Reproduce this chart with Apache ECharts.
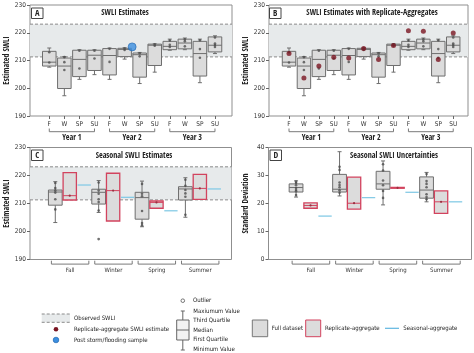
<!DOCTYPE html>
<html><head><meta charset="utf-8">
<script src="https://cdn.jsdelivr.net/npm/echarts@6/dist/echarts.min.js"></script>
<style>html,body{margin:0;padding:0;background:#fff}#c{width:474px;height:353px}</style>
</head><body><div id="c"></div>
<script>
const FONT = '"DejaVu Sans Condensed","DejaVu Sans",sans-serif';
const BFONT = '"Open Sans Condensed","DejaVu Sans Condensed",sans-serif';

// ---------- DATA ----------
const yearSeasons = ['F','W','SP','SU','F','W','SP','SU','F','W','SP','SU'];
const years = ['Year 1','Year 2','Year 3'];
const yearRanges = [[0,3],[4,7],[8,11]];
const observedSWLI = [211.3, 223.1];
// [min, q1, median, q3, max]
const swliBoxes = [
  [207.6, 208.0, 209.4, 213.3, 214.5],
  [197.3, 199.9, 208.0, 210.9, 211.4],
  [203.2, 204.2, 210.4, 213.7, 213.9],
  [204.9, 206.4, 211.9, 213.7, 213.9],
  [203.2, 204.8, 211.8, 214.3, 214.5],
  [210.5, 211.4, 214.0, 214.4, 214.6],
  [201.7, 204.0, 212.1, 212.7, 212.9],
  [205.8, 208.2, 215.5, 215.9, 216.0],
  [213.7, 213.9, 215.1, 216.9, 217.7],
  [213.9, 214.2, 216.3, 217.7, 218.1],
  [202.0, 204.4, 212.5, 216.9, 217.7],
  [212.5, 213.1, 215.5, 218.5, 218.9]
];
const swliPoints = [
  [209.3, 213.0],
  [211.2, 209.4, 206.6],
  [213.5, 207.1],
  [213.5, 210.7],
  [214.2, 209.5],
  [214.3, 213.8],
  [212.6, 211.5],
  [215.8, 215.3],
  [217.2, 215.7, 214.9],
  [217.6, 216.9, 215.1],
  [217.3, 214.1, 211.0],
  [218.3, 216.1, 215.6, 214.9]
];
const stormSample = [5.5, 214.9];
const replicateSWLI = [212.5, 203.7, 208.0, 211.2, 210.9, 214.3, 210.4, 215.4, 220.7, 220.5, 210.4, 219.9];

const seasons = ['Fall','Winter','Spring','Summer'];
const swliSeasonBoxes = [
  [203.2, 209.4, 214.1, 214.8, 217.8],
  [206.8, 209.8, 214.0, 215.1, 218.2],
  [201.7, 204.4, 212.1, 214.0, 218.0],
  [205.1, 211.25, 215.2, 216.0, 219.2]
];
const swliSeasonPoints = [
  [217.3, 215.5, 214.6, 213.9, 211.5, 207.9],
  [217.5, 214.6, 213.5, 211.5, 210.5, 207.5],
  [217.0, 213.5, 212.6, 207.3, 203.0, 202.2],
  [218.5, 216.3, 214.8, 213.6, 212.4, 206.0]
];
const swliSeasonOutliers = [[], [197.3], [], []];
// replicate-aggregate [q1, median, q3]
const swliRepBoxes = [
  [211.25, 212.8, 221.0],
  [203.75, 214.6, 220.8],
  [208.3, 210.4, 210.9],
  [211.5, 215.4, 220.4]
];
const swliSeasonal = [216.6, 212.2, 207.4, 215.2];

const sdSeasonBoxes = [
  [22.3, 24.1, 25.7, 27.0, 28.1],
  [22.7, 24.1, 25.1, 30.4, 38.5],
  [19.5, 25.1, 27.0, 31.5, 35.2],
  [20.6, 21.9, 24.8, 29.5, 31.1]
];
const sdSeasonPoints = [
  [27.8, 27.3, 26.5, 25.5, 24.8, 24.4, 23.0],
  [33.1, 32.0, 27.5, 26.6, 25.8, 24.7, 23.8],
  [34.0, 31.8, 28.2, 26.5, 24.5, 22.0],
  [30.5, 28.0, 27.0, 25.8, 23.3, 22.3, 21.5]
];
const sdRepBoxes = [
  [18.3, 19.3, 20.2],
  [18.0, 20.1, 29.4],
  [25.45, 25.6, 25.75],
  [16.5, 20.6, 24.5]
];
const sdSeasonal = [15.5, 22.1, 24.0, 20.6];

// ---------- STYLE ----------
const C_BORDER = '#8f8f8f';
const C_BOX = '#dcdcdc';
const C_BOXLINE = '#6e6e6e';
const C_PINK = '#d2435e';
const C_BLUE_LINE = '#86cbe6';
const C_RED = '#7a1522';
const C_DOT = '#4d4d4d';
const C_BAND = '#e7eaeb';

function boxRender(o) {
  return function (params, api) {
    const x = api.value(0);
    const w = api.size([o.w, 0])[0];
    let vals;
    if (o.whiskers) vals = [1,2,3,4,5].map(i => api.value(i));
    else vals = [null, api.value(1), api.value(2), api.value(3), null];
    const cx = api.coord([x, vals[2]])[0];
    const y1 = api.coord([x, vals[1]])[1];
    const ym = api.coord([x, vals[2]])[1];
    const y3 = api.coord([x, vals[3]])[1];
    const ch = [];
    if (o.whiskers) {
      const ymin = api.coord([x, vals[0]])[1];
      const ymax = api.coord([x, vals[4]])[1];
      const cap = 2;
      ch.push({ type: 'line', shape: { x1: cx, y1: ymax, x2: cx, y2: y3 }, style: { stroke: C_BOXLINE, lineWidth: 1 } });
      ch.push({ type: 'line', shape: { x1: cx, y1: y1, x2: cx, y2: ymin }, style: { stroke: C_BOXLINE, lineWidth: 1 } });
      ch.push({ type: 'line', shape: { x1: cx - cap, y1: ymax, x2: cx + cap, y2: ymax }, style: { stroke: C_BOXLINE, lineWidth: 1 } });
      ch.push({ type: 'line', shape: { x1: cx - cap, y1: ymin, x2: cx + cap, y2: ymin }, style: { stroke: C_BOXLINE, lineWidth: 1 } });
    }
    ch.push({ type: 'rect', shape: { x: cx - w / 2, y: y3, width: w, height: Math.max(y1 - y3, 0.8) },
      style: { fill: C_BOX, stroke: o.stroke, lineWidth: o.lw || 1 } });
    ch.push({ type: 'line', shape: { x1: cx - w / 2, y1: ym, x2: cx + w / 2, y2: ym },
      style: { stroke: o.stroke, lineWidth: 1 } });
    if (o.medianDot) ch.push({ type: 'circle', shape: { cx: cx, cy: ym, r: 1.1 }, style: { fill: '#9a3040' } });
    return { type: 'group', children: ch };
  };
}

function bandRender(params, api) {
  const cs = params.coordSys;
  const yl = api.coord([0, api.value(0)])[1];
  const yh = api.coord([0, api.value(1)])[1];
  return { type: 'group', children: [
    { type: 'rect', shape: { x: cs.x, y: yh, width: cs.width, height: yl - yh }, style: { fill: C_BAND } },
    { type: 'line', shape: { x1: cs.x, y1: yh, x2: cs.x + cs.width, y2: yh }, style: { stroke: '#8a8a8a', lineWidth: 1, lineDash: [3, 2] } },
    { type: 'line', shape: { x1: cs.x, y1: yl, x2: cs.x + cs.width, y2: yl }, style: { stroke: '#8a8a8a', lineWidth: 1, lineDash: [3, 2] } }
  ] };
}

function segRender(params, api) {
  const x = api.value(0), v = api.value(1);
  const a = api.coord([x - 0.46, v]), b = api.coord([x + 0.46, v]);
  return { type: 'line', shape: { x1: a[0], y1: a[1], x2: b[0], y2: b[1] }, style: { stroke: C_BLUE_LINE, lineWidth: 1.3 } };
}

function txt(text, x, y, size, bold, align, color) {
  return { text: text, x: x, y: y, fill: color || '#222', font: (bold ? 'bold ' + size + 'px ' + BFONT : size + 'px ' + FONT),
    align: align || 'center', verticalAlign: 'middle', textAlign: align || 'center', textVerticalAlign: 'middle' };
}

function yearBracketRender(params, api) {
  const cs = params.coordSys;
  const yb = cs.y + cs.height;
  const a = api.coord([api.value(0), 0])[0], b = api.coord([api.value(1), 0])[0];
  return { type: 'group', children: [
    { type: 'polyline', shape: { points: [[a, yb + 12.5], [a, yb + 15.7], [b, yb + 15.7], [b, yb + 12.5]] }, style: { stroke: '#7a7a7a', lineWidth: 1, fill: null } },
    { type: 'text', style: txt(years[params.dataIndex], (a + b) / 2, yb + 22, 8, true) }
  ] };
}

function seasonBracketRender(params, api) {
  const cs = params.coordSys;
  const yb = cs.y + cs.height;
  const a = api.coord([api.value(0), 0])[0], b = api.coord([api.value(1), 0])[0];
  return { type: 'group', children: [
    { type: 'polyline', shape: { points: [[a, yb + 1.2], [a, yb + 4.6], [b, yb + 4.6], [b, yb + 1.2]] }, style: { stroke: '#7a7a7a', lineWidth: 1, fill: null } },
    { type: 'text', style: txt(seasons[params.dataIndex], (a + b) / 2, yb + 10.8, 6, false, 'center', '#333') }
  ] };
}

// ---------- OPTION ----------
const idx12 = yearSeasons.map((_, i) => i);
const gridBase = { show: true, borderColor: C_BORDER, borderWidth: 1, backgroundColor: '#fff', containLabel: false };
const grids = [
  Object.assign({ left: 30, top: 5, width: 202, height: 111 }, gridBase),
  Object.assign({ left: 269, top: 5, width: 199, height: 111 }, gridBase),
  Object.assign({ left: 30, top: 147.5, width: 201.5, height: 112 }, gridBase),
  Object.assign({ left: 268.5, top: 147.5, width: 203, height: 112 }, gridBase)
];

function xA(g, min, max, cat) {
  const ax = { gridIndex: g, type: 'value', min: min, max: max, splitLine: { show: false },
    axisLine: { show: false, onZero: false } };
  if (cat) {
    ax.axisTick = { show: true, customValues: idx12, length: 3, lineStyle: { color: '#666' } };
    ax.axisLabel = { show: true, customValues: idx12, formatter: v => yearSeasons[Math.round(v)],
      fontSize: 6.5, fontFamily: FONT, color: '#333', margin: 5 };
  } else {
    ax.axisTick = { show: false };
    ax.axisLabel = { show: false };
  }
  return ax;
}
function yA(g, min, max, name) {
  return { gridIndex: g, type: 'value', min: min, max: max, interval: 10,
    splitLine: { show: false },
    axisLine: { show: false, onZero: false },
    axisTick: { show: true, length: 3, lineStyle: { color: '#666' } },
    axisLabel: { fontSize: 6.5, fontFamily: FONT, color: '#333', margin: 4 },
    name: name, nameLocation: 'middle', nameGap: 19,
    nameTextStyle: { fontSize: 8, fontWeight: 'bold', fontFamily: BFONT, color: '#222' } };
}

const series = [];
function addBand(g) {
  series.push({ type: 'custom', xAxisIndex: g, yAxisIndex: g, renderItem: bandRender, data: [observedSWLI], z: 1, silent: true });
}
[0, 1].forEach(g => {
  addBand(g);
  series.push({ type: 'custom', xAxisIndex: g, yAxisIndex: g, z: 2,
    renderItem: boxRender({ w: 0.9, whiskers: true, stroke: C_BOXLINE }),
    data: swliBoxes.map((b, i) => [i].concat(b)) });
  series.push({ type: 'scatter', xAxisIndex: g, yAxisIndex: g, z: 3, symbolSize: 2.6,
    itemStyle: { color: C_DOT }, data: swliPoints.flatMap((arr, i) => arr.map(v => [i, v])) });
  series.push({ type: 'custom', xAxisIndex: g, yAxisIndex: g, z: 2, renderItem: yearBracketRender,
    data: yearRanges });
});
series.push({ type: 'scatter', xAxisIndex: 0, yAxisIndex: 0, z: 5, symbolSize: 8,
  itemStyle: { color: '#3c8fe0', borderColor: '#2166b0', borderWidth: 0.8 }, data: [stormSample] });
series.push({ type: 'scatter', xAxisIndex: 1, yAxisIndex: 1, z: 5, symbolSize: 5,
  itemStyle: { color: C_RED }, data: replicateSWLI.map((v, i) => [i, v]) });

function seasonPanel(g, boxes, pts, outl, reps, seas) {
  series.push({ type: 'custom', xAxisIndex: g, yAxisIndex: g, z: 2,
    renderItem: boxRender({ w: 0.95, whiskers: true, stroke: C_BOXLINE }),
    data: boxes.map((b, k) => [3 * k].concat(b)) });
  series.push({ type: 'scatter', xAxisIndex: g, yAxisIndex: g, z: 3, symbolSize: 2.6,
    itemStyle: { color: C_DOT }, data: pts.flatMap((arr, k) => arr.map(v => [3 * k, v])) });
  if (outl) series.push({ type: 'scatter', xAxisIndex: g, yAxisIndex: g, z: 3, symbolSize: 2.8,
    itemStyle: { color: C_DOT }, data: outl.flatMap((arr, k) => arr.map(v => [3 * k, v])) });
  series.push({ type: 'custom', xAxisIndex: g, yAxisIndex: g, z: 2,
    renderItem: boxRender({ w: 0.92, whiskers: false, stroke: C_PINK, lw: 1.3, medianDot: true }),
    data: reps.map((b, k) => [3 * k + 1].concat(b)) });
  series.push({ type: 'custom', xAxisIndex: g, yAxisIndex: g, z: 2, renderItem: segRender,
    data: seas.map((v, k) => [3 * k + 2, v]) });
  series.push({ type: 'custom', xAxisIndex: g, yAxisIndex: g, z: 2, renderItem: seasonBracketRender,
    data: seasons.map((_, k) => [3 * k - 0.27, 3 * k + 2.32]) });
}
addBand(2);
seasonPanel(2, swliSeasonBoxes, swliSeasonPoints, swliSeasonOutliers, swliRepBoxes, swliSeasonal);
seasonPanel(3, sdSeasonBoxes, sdSeasonPoints, null, sdRepBoxes, sdSeasonal);

// ---------- titles & legend (graphic) ----------
const G = [];
function gText(t, x, y, size, bold, align) { G.push({ type: 'text', x: 0, y: 0, style: txt(t, x, y, size, bold, align), z: 100 }); }
function letterBox(l, x, y) {
  G.push({ type: 'rect', shape: { x: x, y: y, width: 11.5, height: 10.5 }, style: { fill: '#fff', stroke: '#444', lineWidth: 1 }, z: 100 });
  gText(l, x + 5.75, y + 5.5, 8.5, true);
}
letterBox('A', 31.5, 8); gText('SWLI Estimates', 125, 13.3, 8, true);
letterBox('B', 269.5, 8); gText('SWLI Estimates with Replicate-Aggregates', 372, 13.3, 8, true);
letterBox('C', 31.5, 150); gText('Seasonal SWLI Estimates', 134, 155.7, 8, true);
letterBox('D', 270, 150); gText('Seasonal SWLI Uncertainties', 394, 155.7, 8, true);

G.push({ type: 'rect', shape: { x: 41.7, y: 314, width: 28.3, height: 8.3 }, style: { fill: C_BAND }, z: 100 });
G.push({ type: 'line', shape: { x1: 41.7, y1: 314, x2: 70, y2: 314 }, style: { stroke: '#8a8a8a', lineDash: [3, 2] }, z: 100 });
G.push({ type: 'line', shape: { x1: 41.7, y1: 322.3, x2: 70, y2: 322.3 }, style: { stroke: '#8a8a8a', lineDash: [3, 2] }, z: 100 });
gText('Observed SWLI', 74, 318.3, 6, false, 'left');
G.push({ type: 'circle', shape: { cx: 56, cy: 329.3, r: 2.3 }, style: { fill: C_RED }, z: 100 });
gText('Replicate-aggregate SWLI estimate', 74, 329.3, 6, false, 'left');
G.push({ type: 'circle', shape: { cx: 56, cy: 340, r: 2.8 }, style: { fill: '#3c8fe0', stroke: '#2166b0', lineWidth: 0.7 }, z: 100 });
gText('Post storm/flooding sample', 74, 340, 6, false, 'left');

G.push({ type: 'circle', shape: { cx: 182.8, cy: 300.7, r: 1.8 }, style: { fill: '#fff', stroke: '#555', lineWidth: 0.8 }, z: 100 });
const lsg = () => ({ stroke: '#666', lineWidth: 1 });
G.push({ type: 'line', shape: { x1: 182.8, y1: 311, x2: 182.8, y2: 320 }, style: lsg(), z: 100 });
G.push({ type: 'line', shape: { x1: 182.8, y1: 340, x2: 182.8, y2: 350 }, style: lsg(), z: 100 });
G.push({ type: 'line', shape: { x1: 180.8, y1: 311, x2: 184.8, y2: 311 }, style: lsg(), z: 100 });
G.push({ type: 'line', shape: { x1: 180.8, y1: 350, x2: 184.8, y2: 350 }, style: lsg(), z: 100 });
G.push({ type: 'rect', shape: { x: 176.7, y: 320, width: 12.3, height: 20 }, style: { fill: '#f3f3f3', stroke: '#666', lineWidth: 1 }, z: 100 });
G.push({ type: 'line', shape: { x1: 176.7, y1: 330, x2: 189, y2: 330 }, style: lsg(), z: 100 });
gText('Outlier', 193, 300.7, 6, false, 'left');
gText('Maxiumum Value', 193.3, 311, 6, false, 'left');
gText('Third Quartile', 193.3, 320.5, 6, false, 'left');
gText('Median', 193.3, 330, 6, false, 'left');
gText('First Quartile', 193.3, 339.5, 6, false, 'left');
gText('Minimum Value', 193.3, 349.3, 6, false, 'left');

G.push({ type: 'rect', shape: { x: 252.3, y: 320, width: 15.4, height: 16.7 }, style: { fill: C_BOX, stroke: '#777', lineWidth: 1 }, z: 100 });
gText('Full dataset', 271.7, 328.3, 6, false, 'left');
G.push({ type: 'rect', shape: { x: 305.7, y: 320, width: 15, height: 16.7 }, style: { fill: C_BOX, stroke: C_PINK, lineWidth: 1 }, z: 100 });
gText('Replicate-aggregate', 325, 328.3, 6, false, 'left');
G.push({ type: 'line', shape: { x1: 385, y1: 328.3, x2: 399, y2: 328.3 }, style: { stroke: '#5fb6e0', lineWidth: 1.2 }, z: 100 });
gText('Seasonal-aggregate', 403.3, 328.3, 6, false, 'left');

const option = {
  animation: false,
  backgroundColor: '#fff',
  grid: grids,
  xAxis: [xA(0, -1.28, 12.13, true), xA(1, -1.34, 11.99, true), xA(2, -1.75, 12.19, false), xA(3, -1.9, 12.1, false)],
  yAxis: [yA(0, 190, 230, 'Estimated SWLI'), yA(1, 190, 230, 'Estimated SWLI'), yA(2, 190, 230, 'Estimated SWLI'), yA(3, 0, 40, 'Standard Deviation')],
  series: series,
  graphic: { elements: G }
};
const chart = echarts.init(document.getElementById('c'), null, { renderer: 'canvas' });
chart.setOption(option);
</script></body></html>
